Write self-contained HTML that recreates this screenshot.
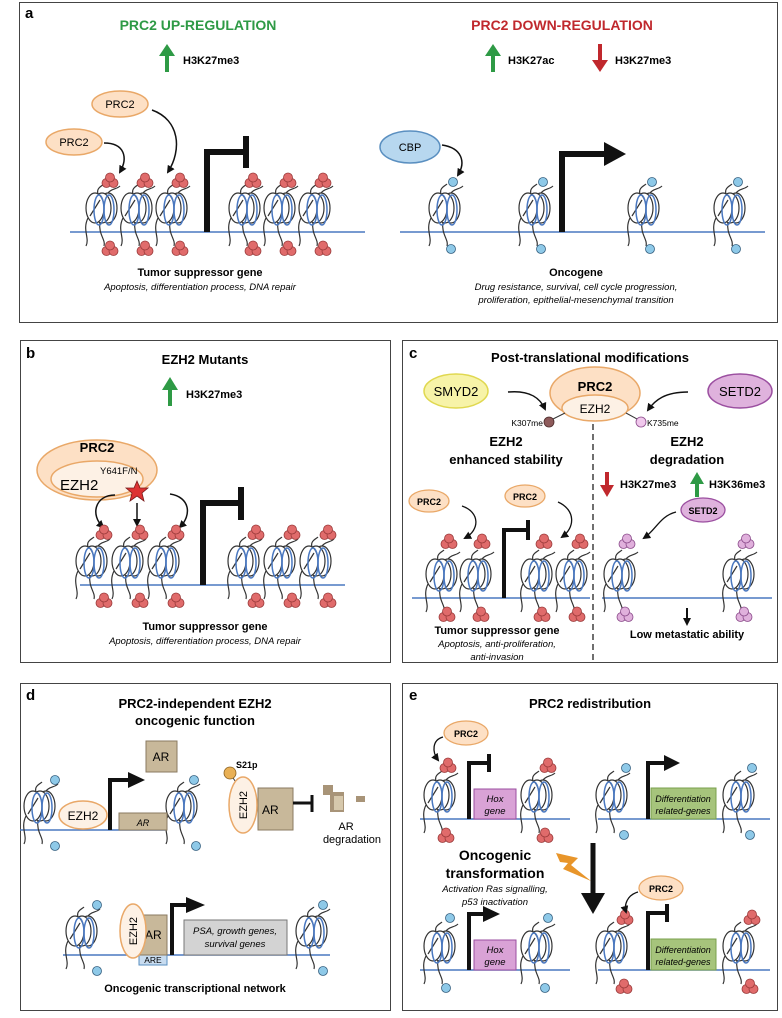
<!DOCTYPE html>
<html><head><meta charset="utf-8"><style>
html,body{margin:0;padding:0;background:#fff}
svg{display:block}
text{font-family:"Liberation Sans",Arial,sans-serif}
.b{font-weight:bold}
.i{font-style:italic}
</style></head><body>
<svg width="782" height="1018" viewBox="0 0 782 1018" xmlns="http://www.w3.org/2000/svg">
<defs>
<g id="nb">
 <g fill="none" stroke="#333" stroke-width="1.2">
  <path d="M-2,-38 C-4,-44 2,-46 4,-48"/>
  <path d="M6,-36 C10,-44 16,-42 20,-46"/>
  <path d="M-12,-14 C-18,-2 -10,6 -14,14"/>
  <path d="M0,-10 C-2,2 6,8 4,14"/>
 </g>
 <g fill="#fff" stroke="#333" stroke-width="1.2">
  <ellipse cx="8" cy="-24" rx="9" ry="15"/>
  <ellipse cx="2" cy="-24" rx="9" ry="15"/>
  <ellipse cx="-5" cy="-24" rx="9" ry="15"/>
  <path d="M-10,-16 L0,-32" fill="none"/>
 </g>
 <g fill="none" stroke="#4a78c0" stroke-width="1.5">
  <ellipse cx="-1" cy="-22" rx="5" ry="15"/>
  <ellipse cx="9" cy="-22" rx="5" ry="15"/>
 </g>
</g>
<g id="rm" fill="#e06b6b" stroke="#9a3a3a" stroke-width="0.8">
 <circle cx="-3.5" cy="1" r="4.5"/><circle cx="3.5" cy="1" r="4.5"/><circle cx="0" cy="-4.5" r="4.5"/>
</g>
<g id="pm" fill="#e0b0dc" stroke="#8a4a8a" stroke-width="0.8">
 <circle cx="-3.5" cy="1" r="4.5"/><circle cx="3.5" cy="1" r="4.5"/><circle cx="0" cy="-4.5" r="4.5"/>
</g>
<g id="bm"><circle r="4.5" fill="#8ec9e8" stroke="#356080" stroke-width="0.8"/></g>
<marker id="ah" markerWidth="8" markerHeight="8" refX="6" refY="4" orient="auto" markerUnits="userSpaceOnUse"><path d="M0,0 L8,4 L0,8 z" fill="#111"/></marker>
</defs>

<g fill="none" stroke="#444" stroke-width="1">
<rect x="19.5" y="2.5" width="758" height="320"/>
<rect x="20.5" y="340.5" width="370" height="322"/>
<rect x="402.5" y="340.5" width="375" height="322"/>
<rect x="20.5" y="683.5" width="370" height="327"/>
<rect x="402.5" y="683.5" width="375" height="327"/>
</g>

<!-- ===== PANEL A ===== -->
<text x="25" y="18" class="b" font-size="15">a</text>
<text x="198" y="30" text-anchor="middle" class="b" font-size="14" fill="#2e9a45">PRC2 UP-REGULATION</text>
<path d="M165,72 L165,56 L159,56 L167,44 L175,56 L169,56 L169,72 z" fill="#2e9a45"/>
<text x="183" y="64" class="b" font-size="11">H3K27me3</text>
<text x="562" y="30" text-anchor="middle" class="b" font-size="14" fill="#c0282d">PRC2 DOWN-REGULATION</text>
<path d="M491,72 L491,56 L485,56 L493,44 L501,56 L495,56 L495,72 z" fill="#2e9a45"/>
<text x="508" y="64" class="b" font-size="11">H3K27ac</text>
<path d="M598,44 L598,60 L592,60 L600,72 L608,60 L602,60 L602,44 z" fill="#c0282d"/>
<text x="615" y="64" class="b" font-size="11">H3K27me3</text>

<line x1="70" y1="232" x2="365" y2="232" stroke="#4a78c0" stroke-width="1.5"/>
<use href="#nb" x="100" y="232"/><use href="#nb" x="135" y="232"/><use href="#nb" x="170" y="232"/>
<use href="#nb" x="243" y="232"/><use href="#nb" x="278" y="232"/><use href="#nb" x="313" y="232"/>
<use href="#rm" x="110" y="182"/><use href="#rm" x="145" y="182"/><use href="#rm" x="180" y="182"/>
<use href="#rm" x="253" y="182"/><use href="#rm" x="288" y="182"/><use href="#rm" x="323" y="182"/>
<use href="#rm" x="110" y="250"/><use href="#rm" x="145" y="250"/><use href="#rm" x="180" y="250"/>
<use href="#rm" x="253" y="250"/><use href="#rm" x="288" y="250"/><use href="#rm" x="323" y="250"/>
<path d="M207,232 L207,152 L246,152" fill="none" stroke="#111" stroke-width="6"/>
<line x1="246" y1="136" x2="246" y2="168" stroke="#111" stroke-width="6"/>
<ellipse cx="120" cy="104" rx="28" ry="13" fill="#fde0c5" stroke="#e9a868" stroke-width="1.5"/>
<text x="120" y="108" text-anchor="middle" font-size="11">PRC2</text>
<ellipse cx="74" cy="142" rx="28" ry="13" fill="#fde0c5" stroke="#e9a868" stroke-width="1.5"/>
<text x="74" y="146" text-anchor="middle" font-size="11">PRC2</text>
<path d="M104,143 C125,143 128,158 120,172" fill="none" stroke="#111" stroke-width="1.5" marker-end="url(#ah)"/>
<path d="M152,110 C180,120 182,150 168,172" fill="none" stroke="#111" stroke-width="1.5" marker-end="url(#ah)"/>
<text x="200" y="276" text-anchor="middle" class="b" font-size="11">Tumor suppressor gene</text>
<text x="200" y="290" text-anchor="middle" class="i" font-size="9.5">Apoptosis, differentiation process, DNA repair</text>

<line x1="400" y1="232" x2="765" y2="232" stroke="#4a78c0" stroke-width="1.5"/>
<use href="#nb" x="443" y="232"/><use href="#nb" x="533" y="232"/><use href="#nb" x="642" y="232"/><use href="#nb" x="728" y="232"/>
<use href="#bm" x="453" y="182"/><use href="#bm" x="543" y="182"/><use href="#bm" x="652" y="182"/><use href="#bm" x="738" y="182"/>
<use href="#bm" x="451" y="249"/><use href="#bm" x="541" y="249"/><use href="#bm" x="650" y="249"/><use href="#bm" x="736" y="249"/>
<ellipse cx="410" cy="147" rx="30" ry="16" fill="#b7d7ef" stroke="#5a8fc0" stroke-width="1.5"/>
<text x="410" y="151" text-anchor="middle" font-size="11">CBP</text>
<path d="M442,145 C462,148 466,162 458,175" fill="none" stroke="#111" stroke-width="1.5" marker-end="url(#ah)"/>
<path d="M562,232 L562,154 L607,154" fill="none" stroke="#111" stroke-width="6"/>
<path d="M604,142 L626,154 L604,166 z" fill="#111"/>
<text x="576" y="276" text-anchor="middle" class="b" font-size="11">Oncogene</text>
<text x="576" y="290" text-anchor="middle" class="i" font-size="9.5">Drug resistance, survival, cell cycle progression,</text>
<text x="576" y="303" text-anchor="middle" class="i" font-size="9.5">proliferation, epithelial-mesenchymal transition</text>

<!-- ===== PANEL B ===== -->
<text x="26" y="358" class="b" font-size="15">b</text>
<text x="205" y="364" text-anchor="middle" class="b" font-size="13">EZH2 Mutants</text>
<path d="M168,406 L168,390 L162,390 L170,377 L178,390 L172,390 L172,406 z" fill="#2e9a45"/>
<text x="186" y="398" class="b" font-size="11">H3K27me3</text>
<ellipse cx="97" cy="470" rx="60" ry="30" fill="#fde0c5" stroke="#e9a868" stroke-width="1.5"/>
<ellipse cx="97" cy="479" rx="46" ry="18" fill="#fdf1e5" stroke="#e9a868" stroke-width="1.5"/>
<text x="97" y="452" text-anchor="middle" class="b" font-size="13">PRC2</text>
<text x="60" y="490" font-size="15">EZH2</text>
<text x="100" y="474" font-size="9.5">Y641F/N</text>
<path d="M137,481 L140,488 L148,488 L142,493 L144,501 L137,496 L130,501 L132,493 L126,488 L134,488 z" fill="#d33" stroke="#7a1a1a" stroke-width="0.8"/>
<path d="M115,495 C95,495 90,515 103,527" fill="none" stroke="#111" stroke-width="1.5" marker-end="url(#ah)"/>
<line x1="137" y1="503" x2="137" y2="525" stroke="#111" stroke-width="1.5" marker-end="url(#ah)"/>
<path d="M170,494 C190,497 192,515 180,527" fill="none" stroke="#111" stroke-width="1.5" marker-end="url(#ah)"/>
<line x1="80" y1="585" x2="345" y2="585" stroke="#4a78c0" stroke-width="1.5"/>
<use href="#nb" x="90" y="585"/><use href="#nb" x="126" y="585"/><use href="#nb" x="162" y="585"/>
<use href="#nb" x="242" y="585"/><use href="#nb" x="278" y="585"/><use href="#nb" x="314" y="585"/>
<use href="#rm" x="104" y="534"/><use href="#rm" x="140" y="534"/><use href="#rm" x="176" y="534"/>
<use href="#rm" x="256" y="534"/><use href="#rm" x="292" y="534"/><use href="#rm" x="328" y="534"/>
<use href="#rm" x="104" y="602"/><use href="#rm" x="140" y="602"/><use href="#rm" x="176" y="602"/>
<use href="#rm" x="256" y="602"/><use href="#rm" x="292" y="602"/><use href="#rm" x="328" y="602"/>
<path d="M203,585 L203,503 L240,503" fill="none" stroke="#111" stroke-width="6"/>
<line x1="241" y1="487" x2="241" y2="520" stroke="#111" stroke-width="6"/>
<text x="205" y="630" text-anchor="middle" class="b" font-size="11">Tumor suppressor gene</text>
<text x="205" y="644" text-anchor="middle" class="i" font-size="9.5">Apoptosis, differentiation process, DNA repair</text>

<!-- ===== PANEL C ===== -->
<text x="409" y="358" class="b" font-size="15">c</text>
<text x="590" y="362" text-anchor="middle" class="b" font-size="13">Post-translational modifications</text>
<ellipse cx="456" cy="391" rx="32" ry="17" fill="#f7f3a8" stroke="#e0d850" stroke-width="1.5"/>
<text x="456" y="396" text-anchor="middle" font-size="13">SMYD2</text>
<ellipse cx="740" cy="391" rx="32" ry="17" fill="#dfb2dd" stroke="#9b4fa0" stroke-width="1.5"/>
<text x="740" y="396" text-anchor="middle" font-size="13">SETD2</text>
<ellipse cx="595" cy="393" rx="45" ry="26" fill="#fde0c5" stroke="#e9a868" stroke-width="1.5"/>
<ellipse cx="595" cy="408" rx="33" ry="13" fill="#fdf1e5" stroke="#e9a868" stroke-width="1.5"/>
<text x="595" y="391" text-anchor="middle" class="b" font-size="13">PRC2</text>
<text x="595" y="413" text-anchor="middle" font-size="12">EZH2</text>
<path d="M508,392 C530,390 540,398 545,409" fill="none" stroke="#111" stroke-width="1.5" marker-end="url(#ah)"/>
<path d="M688,392 C665,392 655,400 648,410" fill="none" stroke="#111" stroke-width="1.5" marker-end="url(#ah)"/>
<line x1="553" y1="419" x2="565" y2="413" stroke="#333"/>
<circle cx="549" cy="422" r="5" fill="#8d5a5a" stroke="#4a2a2a" stroke-width="0.8"/>
<text x="543" y="426" text-anchor="end" font-size="8.5">K307me</text>
<line x1="637" y1="419" x2="626" y2="413" stroke="#333"/>
<circle cx="641" cy="422" r="5" fill="#f0c8ec" stroke="#8a4a8a" stroke-width="0.8"/>
<text x="647" y="426" font-size="8.5">K735me</text>
<line x1="593" y1="424" x2="593" y2="663" stroke="#222" stroke-width="1.3" stroke-dasharray="6,4"/>
<text x="506" y="446" text-anchor="middle" class="b" font-size="13">EZH2</text>
<text x="506" y="464" text-anchor="middle" class="b" font-size="13">enhanced stability</text>
<text x="687" y="446" text-anchor="middle" class="b" font-size="13">EZH2</text>
<text x="687" y="464" text-anchor="middle" class="b" font-size="13">degradation</text>
<path d="M605,472 L605,485 L600,485 L607,497 L614,485 L609,485 L609,472 z" fill="#c0282d"/>
<text x="620" y="488" class="b" font-size="11">H3K27me3</text>
<path d="M695,497 L695,484 L690,484 L697,472 L704,484 L699,484 L699,497 z" fill="#2e9a45"/>
<text x="709" y="488" class="b" font-size="11">H3K36me3</text>
<ellipse cx="429" cy="501" rx="20" ry="11" fill="#fde0c5" stroke="#e9a868" stroke-width="1.3"/>
<text x="429" y="505" text-anchor="middle" class="b" font-size="9">PRC2</text>
<ellipse cx="525" cy="496" rx="20" ry="11" fill="#fde0c5" stroke="#e9a868" stroke-width="1.3"/>
<text x="525" y="500" text-anchor="middle" class="b" font-size="9">PRC2</text>
<path d="M462,506 C480,512 480,530 465,538" fill="none" stroke="#111" stroke-width="1.3" marker-end="url(#ah)"/>
<path d="M558,502 C576,510 575,528 562,537" fill="none" stroke="#111" stroke-width="1.3" marker-end="url(#ah)"/>
<line x1="412" y1="598" x2="590" y2="598" stroke="#4a78c0" stroke-width="1.5"/>
<use href="#nb" x="440" y="598"/><use href="#nb" x="474" y="598"/><use href="#nb" x="535" y="598"/><use href="#nb" x="570" y="598"/>
<use href="#rm" x="449" y="543"/><use href="#rm" x="482" y="543"/><use href="#rm" x="544" y="543"/><use href="#rm" x="580" y="543"/>
<use href="#rm" x="447" y="616"/><use href="#rm" x="481" y="616"/><use href="#rm" x="542" y="616"/><use href="#rm" x="577" y="616"/>
<path d="M504,598 L504,530 L527,530" fill="none" stroke="#111" stroke-width="4"/>
<line x1="528" y1="520" x2="528" y2="540" stroke="#111" stroke-width="4"/>
<text x="497" y="634" text-anchor="middle" class="b" font-size="11">Tumor suppressor gene</text>
<text x="497" y="647" text-anchor="middle" class="i" font-size="9.5">Apoptosis, anti-proliferation,</text>
<text x="497" y="660" text-anchor="middle" class="i" font-size="9.5">anti-invasion</text>
<ellipse cx="703" cy="510" rx="22" ry="12" fill="#dfb2dd" stroke="#9b4fa0" stroke-width="1.3"/>
<text x="703" y="514" text-anchor="middle" class="b" font-size="9">SETD2</text>
<path d="M676,512 C660,516 656,530 644,538" fill="none" stroke="#111" stroke-width="1.3" marker-end="url(#ah)"/>
<line x1="602" y1="598" x2="772" y2="598" stroke="#4a78c0" stroke-width="1.5"/>
<use href="#nb" x="618" y="598"/><use href="#nb" x="737" y="598"/>
<use href="#pm" x="627" y="543"/><use href="#pm" x="746" y="543"/>
<use href="#pm" x="625" y="616"/><use href="#pm" x="744" y="616"/>
<line x1="687" y1="608" x2="687" y2="624" stroke="#111" stroke-width="2" marker-end="url(#ah)"/>
<text x="687" y="638" text-anchor="middle" class="b" font-size="11">Low metastatic ability</text>

<!-- ===== PANEL D ===== -->
<text x="26" y="700" class="b" font-size="15">d</text>
<text x="195" y="708" text-anchor="middle" class="b" font-size="13">PRC2-independent EZH2</text>
<text x="195" y="725" text-anchor="middle" class="b" font-size="13">oncogenic function</text>
<line x1="20" y1="830" x2="165" y2="830" stroke="#4a78c0" stroke-width="1.5"/>
<use href="#nb" x="38" y="830"/><use href="#nb" x="180" y="830"/>
<use href="#bm" x="55" y="780"/><use href="#bm" x="194" y="780"/>
<use href="#bm" x="55" y="846"/><use href="#bm" x="196" y="846"/>
<ellipse cx="83" cy="815" rx="24" ry="14" fill="#fdf1e5" stroke="#e9a868" stroke-width="1.5"/>
<text x="83" y="820" text-anchor="middle" font-size="12">EZH2</text>
<rect x="119" y="813" width="48" height="17" fill="#c8b89a" stroke="#8a7a60"/>
<text x="143" y="826" text-anchor="middle" class="i" font-size="9">AR</text>
<path d="M110,830 L110,780 L130,780" fill="none" stroke="#111" stroke-width="4"/>
<path d="M128,772 L145,780 L128,788 z" fill="#111"/>
<rect x="146" y="741" width="31" height="31" fill="#c8b89a" stroke="#8a7a60"/>
<text x="161" y="761" text-anchor="middle" font-size="12">AR</text>
<text x="236" y="768" class="b" font-size="9">S21p</text>
<line x1="233" y1="778" x2="238" y2="785" stroke="#333"/>
<circle cx="230" cy="773" r="6" fill="#e9b055" stroke="#8a6020" stroke-width="0.8"/>
<rect x="258" y="788" width="35" height="42" fill="#c8b89a" stroke="#8a7a60"/>
<text x="262" y="814" font-size="12">AR</text>
<ellipse cx="243" cy="805" rx="14" ry="28" fill="#fdf1e5" stroke="#e9a868" stroke-width="1.5"/>
<text x="243" y="805" text-anchor="middle" font-size="11" transform="rotate(-90 243 805)" dy="4">EZH2</text>
<line x1="293" y1="803" x2="311" y2="803" stroke="#111" stroke-width="3"/>
<line x1="312" y1="795" x2="312" y2="812" stroke="#111" stroke-width="3"/>
<rect x="323" y="785" width="10" height="10" fill="#a89478"/>
<rect x="330" y="792" width="14" height="20" fill="#a89478"/>
<rect x="334" y="796" width="9" height="14" fill="#d6c8ac"/>
<rect x="356" y="796" width="9" height="6" fill="#a89478"/>
<text x="346" y="830" text-anchor="middle" font-size="11">AR</text>
<text x="352" y="843" text-anchor="middle" font-size="11">degradation</text>
<line x1="63" y1="955" x2="330" y2="955" stroke="#4a78c0" stroke-width="1.5"/>
<use href="#nb" x="80" y="955"/><use href="#nb" x="310" y="955"/>
<use href="#bm" x="97" y="905"/><use href="#bm" x="323" y="905"/>
<use href="#bm" x="97" y="971"/><use href="#bm" x="323" y="971"/>
<rect x="139" y="955" width="28" height="10" fill="#c8dcf0" stroke="#5a8fc0"/>
<text x="153" y="963" text-anchor="middle" font-size="8.5">ARE</text>
<rect x="140" y="915" width="27" height="40" fill="#c8b89a" stroke="#8a7a60"/>
<text x="145" y="939" font-size="12">AR</text>
<ellipse cx="133" cy="931" rx="13" ry="27" fill="#fdf1e5" stroke="#e9a868" stroke-width="1.5"/>
<text x="133" y="931" text-anchor="middle" font-size="11" transform="rotate(-90 133 931)" dy="4">EZH2</text>
<path d="M172,955 L172,905 L188,905" fill="none" stroke="#111" stroke-width="4"/>
<path d="M186,897 L205,905 L186,913 z" fill="#111"/>
<rect x="184" y="920" width="103" height="35" fill="#d3d3d3" stroke="#777"/>
<text x="235" y="934" text-anchor="middle" class="i" font-size="9.5">PSA, growth genes,</text>
<text x="235" y="947" text-anchor="middle" class="i" font-size="9.5">survival genes</text>
<text x="195" y="992" text-anchor="middle" class="b" font-size="11">Oncogenic transcriptional network</text>

<!-- ===== PANEL E ===== -->
<text x="409" y="700" class="b" font-size="15">e</text>
<text x="590" y="708" text-anchor="middle" class="b" font-size="13">PRC2 redistribution</text>
<line x1="420" y1="819" x2="570" y2="819" stroke="#4a78c0" stroke-width="1.5"/>
<use href="#nb" x="438" y="819"/><use href="#nb" x="535" y="819"/>
<use href="#rm" x="448" y="767"/><use href="#rm" x="548" y="767"/>
<use href="#rm" x="446" y="837"/><use href="#rm" x="545" y="837"/>
<rect x="474" y="789" width="42" height="30" fill="#d9a2d6" stroke="#9b4fa0"/>
<text x="495" y="802" text-anchor="middle" class="i" font-size="9.5">Hox</text>
<text x="495" y="814" text-anchor="middle" class="i" font-size="9.5">gene</text>
<path d="M469,819 L469,763 L488,763" fill="none" stroke="#111" stroke-width="4"/>
<line x1="489" y1="754" x2="489" y2="772" stroke="#111" stroke-width="4"/>
<ellipse cx="466" cy="733" rx="22" ry="12" fill="#fde0c5" stroke="#e9a868" stroke-width="1.3"/>
<text x="466" y="737" text-anchor="middle" class="b" font-size="9">PRC2</text>
<path d="M443,737 C432,740 432,752 438,760" fill="none" stroke="#111" stroke-width="1.3" marker-end="url(#ah)"/>

<line x1="598" y1="819" x2="770" y2="819" stroke="#4a78c0" stroke-width="1.5"/>
<use href="#nb" x="610" y="819"/><use href="#nb" x="737" y="819"/>
<use href="#bm" x="626" y="768"/><use href="#bm" x="752" y="768"/>
<use href="#bm" x="624" y="835"/><use href="#bm" x="750" y="835"/>
<rect x="651" y="788" width="65" height="31" fill="#a6c47c" stroke="#7aa04c"/>
<text x="683" y="802" text-anchor="middle" class="i" font-size="9">Differentiation</text>
<text x="683" y="814" text-anchor="middle" class="i" font-size="9">related-genes</text>
<path d="M648,819 L648,763 L666,763" fill="none" stroke="#111" stroke-width="4"/>
<path d="M664,755 L680,763 L664,771 z" fill="#111"/>

<text x="495" y="860" text-anchor="middle" class="b" font-size="14">Oncogenic</text>
<text x="495" y="878" text-anchor="middle" class="b" font-size="14">transformation</text>
<text x="495" y="892" text-anchor="middle" class="i" font-size="9.5">Activation Ras signalling,</text>
<text x="495" y="905" text-anchor="middle" class="i" font-size="9.5">p53 inactivation</text>
<path d="M556,853 L578,858 L571,865 L591,881 L563,869 L568,863 L560,862 z" fill="#e8952a"/>
<line x1="593" y1="843" x2="593" y2="895" stroke="#111" stroke-width="5"/>
<path d="M581,893 L593,914 L605,893 z" fill="#111"/>

<line x1="420" y1="970" x2="570" y2="970" stroke="#4a78c0" stroke-width="1.5"/>
<use href="#nb" x="438" y="970"/><use href="#nb" x="535" y="970"/>
<use href="#bm" x="450" y="918"/><use href="#bm" x="548" y="918"/>
<use href="#bm" x="446" y="988"/><use href="#bm" x="545" y="988"/>
<rect x="474" y="940" width="42" height="30" fill="#d9a2d6" stroke="#9b4fa0"/>
<text x="495" y="953" text-anchor="middle" class="i" font-size="9.5">Hox</text>
<text x="495" y="965" text-anchor="middle" class="i" font-size="9.5">gene</text>
<path d="M469,970 L469,914 L485,914" fill="none" stroke="#111" stroke-width="4"/>
<path d="M483,906 L500,914 L483,922 z" fill="#111"/>

<line x1="598" y1="970" x2="770" y2="970" stroke="#4a78c0" stroke-width="1.5"/>
<use href="#nb" x="610" y="970"/><use href="#nb" x="737" y="970"/>
<use href="#rm" x="625" y="919"/><use href="#rm" x="752" y="919"/>
<use href="#rm" x="624" y="988"/><use href="#rm" x="750" y="988"/>
<rect x="651" y="939" width="65" height="31" fill="#a6c47c" stroke="#7aa04c"/>
<text x="683" y="953" text-anchor="middle" class="i" font-size="9">Differentiation</text>
<text x="683" y="965" text-anchor="middle" class="i" font-size="9">related-genes</text>
<path d="M648,970 L648,913 L666,913" fill="none" stroke="#111" stroke-width="4"/>
<line x1="667" y1="904" x2="667" y2="922" stroke="#111" stroke-width="4"/>
<ellipse cx="661" cy="888" rx="22" ry="12" fill="#fde0c5" stroke="#e9a868" stroke-width="1.3"/>
<text x="661" y="892" text-anchor="middle" class="b" font-size="9">PRC2</text>
<path d="M638,892 C627,895 624,905 626,912" fill="none" stroke="#111" stroke-width="1.3" marker-end="url(#ah)"/>
</svg>
</body></html>
